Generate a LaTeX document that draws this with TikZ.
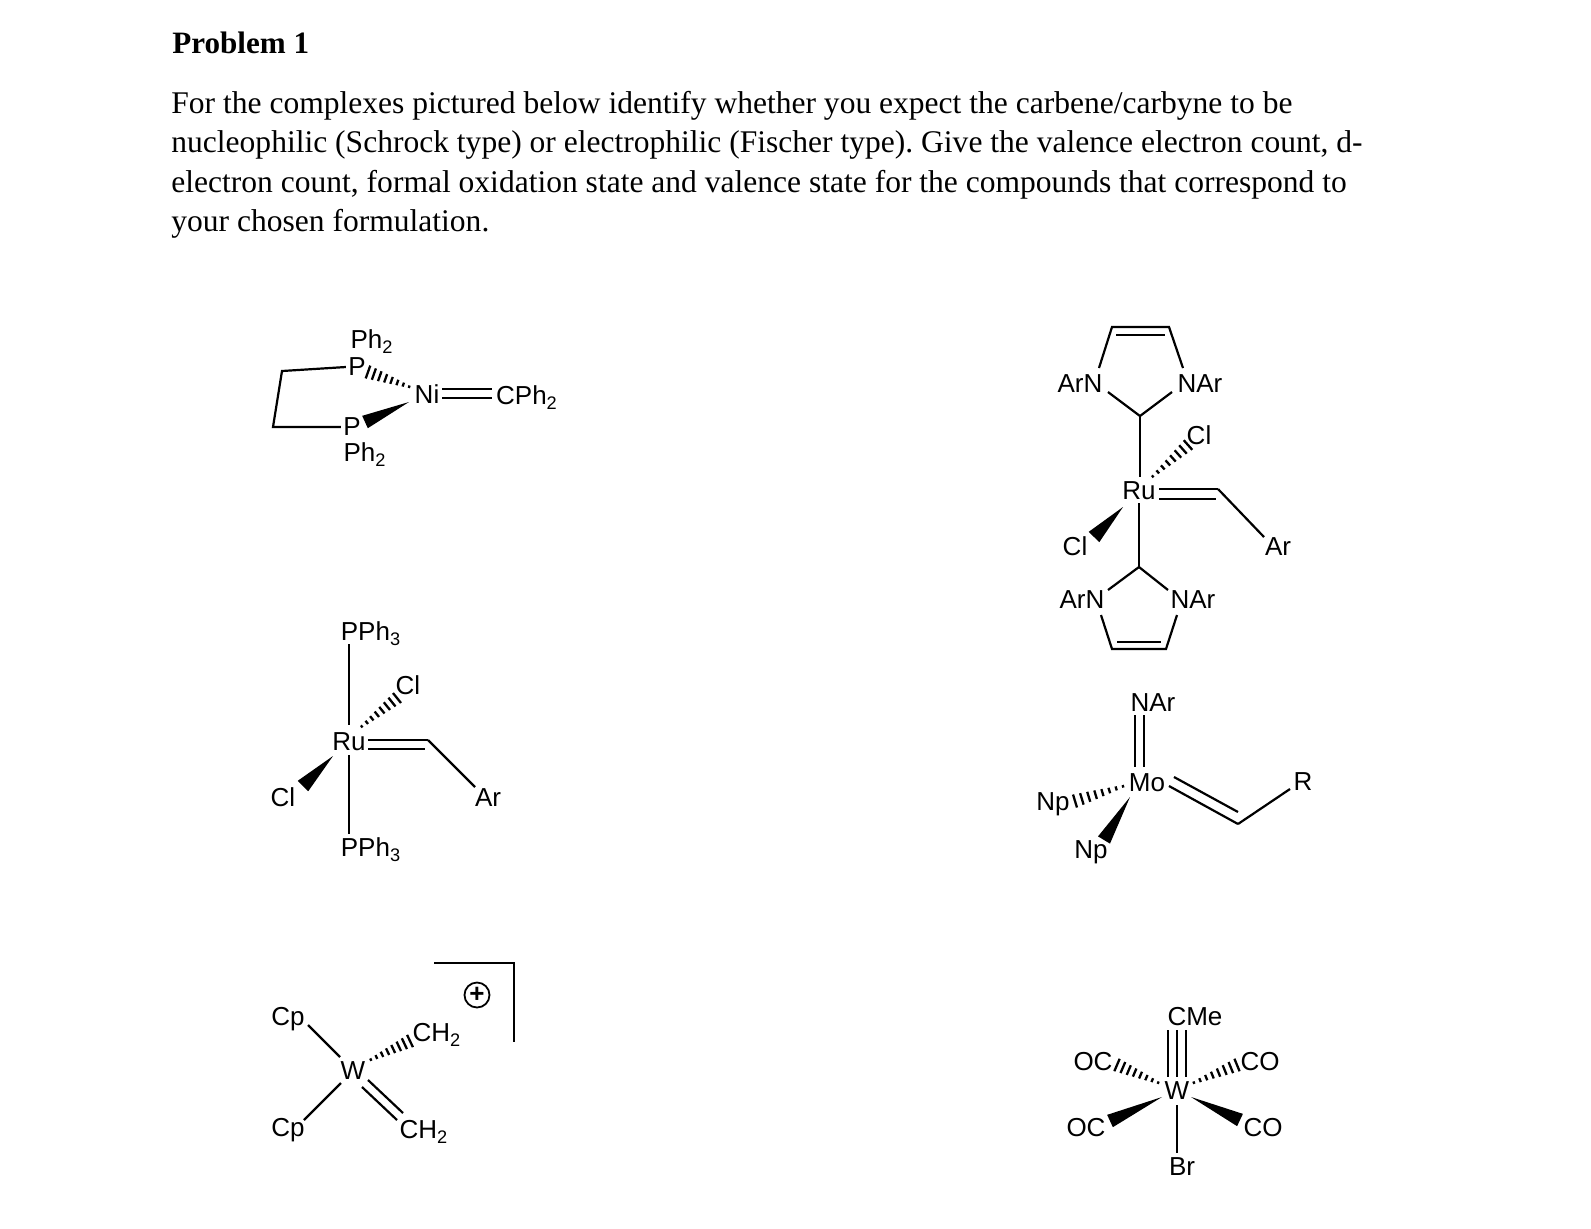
\documentclass[tikz,border=0pt]{standalone}
\usepackage{fontspec}
\usepackage{xcolor}
\usepackage{tikz}
\usetikzlibrary{calc}
\setmainfont{Liberation Serif}
\newfontfamily\chemfont{Liberation Sans}

\tikzset{
  atom/.style={font=\chemfont\fontsize{13}{15}\selectfont, inner sep=1pt, text height=9.3pt, text depth=0.4pt},
  bond/.style={line width=1.1pt, line join=miter},
  hashline/.style={line width=1.15pt}
}
\newcommand{\wedgebond}[3]{
  \coordinate (wstart) at ($#1$);
  \coordinate (wend) at ($#2$);
  \fill (wstart) -- ($(wend)!#3!90:(wstart)$) -- ($(wend)!#3!-90:(wstart)$) -- cycle;
}
\newcommand{\hashbond}[3]{
  \coordinate (hstart) at ($#1$);
  \coordinate (hend) at ($#2$);
  \coordinate (hfar) at ($(hstart)!1.3!(hend)$);
  \foreach \hpos in {.02,.16,.30,.44,.58,.72,.86,1} {
    \pgfmathsetmacro{\hwid}{0.6+\hpos*(#3-0.6)}
    \coordinate (hmid) at ($(hstart)!\hpos!(hend)$);
    \draw[hashline] ($(hmid)!\hwid pt!90:(hfar)$) -- ($(hmid)!\hwid pt!-90:(hfar)$);
  }
}

\begin{document}
\frenchspacing
\begin{tikzpicture}[x=0.5pt, y=-0.5pt]
  \useasboundingbox (0,0) rectangle (1591,1228);

  % Heading and question
  \node[anchor=west, inner sep=0pt, font=\fontsize{15.55}{19}\selectfont\bfseries] (title) at (172,43) {Problem 1};
  \node[anchor=north west, inner sep=0pt, align=left, font=\fontsize{15.77}{19.65}\selectfont] (question) at (171,91)
    {For the complexes pictured below identify whether you expect the carbene/carbyne to be\\
     nucleophilic (Schrock type) or electrophilic (Fischer type). Give the valence electron count, d-\\
     electron count, formal oxidation state and valence state for the compounds that correspond to\\
     your chosen formulation.};

  % Ni carbene
  \node[atom] (pha) at (372,340) {Ph\textsubscript{2}};
  \node[atom] (pa) at (357,367) {P};
  \node[atom] (ni) at (427,395) {Ni};
  \node[atom] (cpha) at (527,396) {CPh\textsubscript{2}};
  \node[atom] (pb) at (352,427) {P};
  \node[atom] (phb) at (365,453) {Ph\textsubscript{2}};
  \coordinate (ca) at (282,371);
  \coordinate (cb) at (273,427);
  \draw[bond] (pa.west) -- (ca) -- (cb) -- (pb.west);
  \draw[bond] ($(ni)+(15,-6)$) -- ($(cpha)+(-35,-7)$);
  \draw[bond] ($(ni)+(15,3)$) -- ($(cpha)+(-35,2)$);
  \hashbond{(ni)+(-17,-8)}{(pa)+(11,5)}{3.4}
  \wedgebond{(ni)+(-18,7)}{(pb)+(13,-5)}{3.4pt}

  % Ru with two carbene ligands
  \node[atom] (arna) at (1080,384) {ArN};
  \node[atom] (nara) at (1200,384) {NAr};
  \node[atom] (cla) at (1199,436) {Cl};
  \node[atom] (rua) at (1139,491) {Ru};
  \node[atom] (clb) at (1075,547) {Cl};
  \node[atom] (ara) at (1278,547) {Ar};
  \node[atom] (arnb) at (1082,600) {ArN};
  \node[atom] (narb) at (1193,600) {NAr};
  \coordinate (ta) at (1112,327);
  \coordinate (tb) at (1169,327);
  \coordinate (tc) at (1140,416);
  \coordinate (bc) at (1139,567);
  \coordinate (bl) at (1112,649);
  \coordinate (brt) at (1166,649);
  \coordinate (cha) at (1218,489);
  \draw[bond] ($(arna)+(19,-16)$) -- (ta) -- (tb) -- ($(nara)+(-17,-16)$);
  \draw[bond] ($(ta)+(4,8)$) -- ($(tb)+(-4,8)$);
  \draw[bond] ($(arna)+(28,8)$) -- (tc) -- ($(nara)+(-28,8)$);
  \draw[bond] (tc) -- ($(rua)+(1,-14)$);
  \hashbond{(rua)+(13,-14)}{(cla)+(-11,9)}{3.2}
  \draw[bond] ($(rua)+(20,-2)$) -- (cha);
  \draw[bond] ($(rua)+(20,8)$) -- ($(cha)+(-2,10)$);
  \draw[bond] (cha) -- ($(ara)+(-14,-10)$);
  \wedgebond{(rua)+(-16,16)}{(clb)+(19,-10)}{3.7pt}
  \draw[bond] ($(rua)+(0,12)$) -- (bc);
  \draw[bond] ($(arnb)+(26,-10)$) -- (bc) -- ($(narb)+(-25,-10)$);
  \draw[bond] ($(arnb)+(19,15)$) -- (bl) -- (brt) -- ($(narb)+(-16,15)$);
  \draw[bond] ($(bl)+(5,-7)$) -- ($(brt)+(-5,-7)$);

  % Ru with phosphines
  \node[atom] (ppa) at (371,632) {PPh\textsubscript{3}};
  \node[atom] (rub) at (349,742) {Ru};
  \node[atom] (clc) at (408,686) {Cl};
  \node[atom] (arb) at (488,798) {Ar};
  \node[atom] (cld) at (283,798) {Cl};
  \node[atom] (ppb) at (371,848) {PPh\textsubscript{3}};
  \coordinate (chb) at (428,740);
  \draw[bond] ($(ppa)+(-22,12)$) -- ($(rub)+(0,-17)$);
  \hashbond{(rub)+(12,-15)}{(clc)+(-11,12)}{3.2}
  \draw[bond] ($(rub)+(19,-2)$) -- (chb);
  \draw[bond] ($(rub)+(19,7)$) -- ($(chb)+(-3,9)$);
  \draw[bond] (chb) -- ($(arb)+(-13,-11)$);
  \wedgebond{(rub)+(-16,14)}{(cld)+(20,-12)}{3.7pt}
  \draw[bond] ($(rub)+(0,13)$) -- ($(ppb)+(-22,-14)$);

  % Mo imido alkylidene
  \node[atom] (narc) at (1153,703) {NAr};
  \node[atom] (mo) at (1147,783) {Mo};
  \node[atom] (npa) at (1053,802) {Np};
  \node[atom] (npb) at (1091,850) {Np};
  \node[atom] (rr) at (1303,782) {R};
  \coordinate (chc) at (1238,824);
  \draw[bond] ($(narc)+(-18,12)$) -- ($(mo)+(-12,-16)$);
  \draw[bond] ($(narc)+(-9,12)$) -- ($(mo)+(-3,-16)$);
  \hashbond{(mo)+(-23,3)}{(npa)+(22,-1)}{3.4}
  \wedgebond{(mo)+(-17,14)}{(npb)+(13,-10)}{3.5pt}
  \draw[bond] ($(mo)+(22,3)$) -- (chc);
  \draw[bond] ($(mo)+(27,-6)$) -- ($(chc)+(0,-12)$);
  \draw[bond] (chc) -- ($(rr)+(-13,7)$);

  % W cation
  \node[atom] (cpa) at (288,1017) {Cp};
  \node[atom] (wa) at (353,1071) {W};
  \node[atom] (chd) at (437,1033) {CH\textsubscript{2}};
  \node[atom] (cpb) at (288,1128) {Cp};
  \node[atom] (che) at (424,1130) {CH\textsubscript{2}};
  \node[circle, draw, line width=0.9pt, minimum size=12.5pt, inner sep=0pt, font=\chemfont\bfseries\fontsize{13}{13}\selectfont] (plus) at (477,995) {+};
  \coordinate (bra) at (434,963);
  \coordinate (brb) at (514,963);
  \coordinate (brc) at (514,1042);
  \draw[bond] (bra) -- (brb) -- (brc);
  \draw[bond] ($(cpa)+(20,8)$) -- ($(wa)+(-13,-14)$);
  \draw[bond] ($(cpb)+(16,-8)$) -- ($(wa)+(-12,12)$);
  \hashbond{(wa)+(17,-11)}{(chd)+(-27,8)}{3.4}
  \draw[bond] ($(wa)+(15,9)$) -- ($(che)+(-21,-17)$);
  \draw[bond] ($(wa)+(9,16)$) -- ($(che)+(-27,-10)$);

  % W carbyne
  \node[atom] (cme) at (1195,1017) {CMe};
  \node[atom] (wb) at (1177,1091) {W};
  \node[atom] (oca) at (1093,1062) {OC};
  \node[atom] (coa) at (1260,1062) {CO};
  \node[atom] (ocb) at (1086,1128) {OC};
  \node[atom] (cob) at (1263,1128) {CO};
  \node[atom] (brm) at (1182,1167) {Br};
  \draw[bond] ($(cme)+(-27,13)$) -- ($(wb)+(-9,-14)$);
  \draw[bond] ($(cme)+(-18,13)$) -- ($(wb)+(0,-14)$);
  \draw[bond] ($(cme)+(-9,13)$) -- ($(wb)+(9,-14)$);
  \hashbond{(wb)+(-18,-8)}{(oca)+(24,3)}{3.4}
  \hashbond{(wb)+(16,-8)}{(coa)+(-23,3)}{3.4}
  \wedgebond{(wb)+(-15,6)}{(ocb)+(24,-7)}{3.4pt}
  \wedgebond{(wb)+(14,6)}{(cob)+(-23,-8)}{3.4pt}
  \draw[bond] ($(wb)+(0,14)$) -- ($(brm)+(-5,-14)$);
\end{tikzpicture}
\end{document}
